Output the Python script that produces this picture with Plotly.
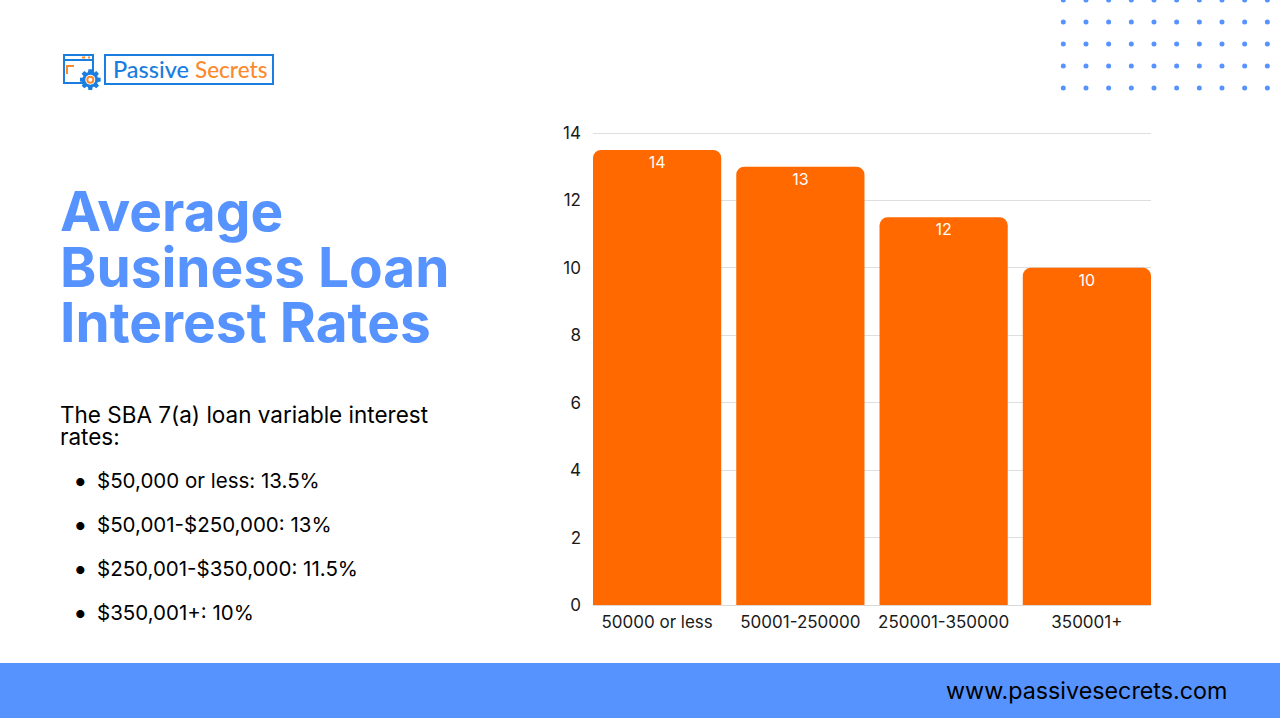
import math
import plotly.graph_objects as go

W = 1280
H = 720

# chart data
categories = ["50000 or less", "50001-250000", "250001-350000", "350001+"]
rates = [13.5, 13, 11.5, 10]
y_ticks = [0, 2, 4, 6, 8, 10, 12, 14]

# page text
title_lines = ["Average", "Business Loan", "Interest Rates"]
intro_lines = ["The SBA 7(a) loan variable interest", "rates:"]
bullets = ["$50,000 or less: 13.5%", "$50,001-$250,000: 13%",
           "$250,001-$350,000: 11.5%", "$350,001+: 10%"]
site = "www.passivesecrets.com"

BLUE = "#5693ff"
ORANGE = "#ff6900"
LOGO_BLUE = "#1a7de0"
LOGO_ORANGE = "#fb8a2e"
FONT = "Inter"

fig = go.Figure()

fig.add_trace(go.Bar(
    x=categories, y=rates,
    marker=dict(color=ORANGE, line=dict(width=0)),
    hoverinfo="skip",
))

# bar labels, a text trace so they sit closer to the rounded top than inside text does
# the invisible marker only pushes the text down from the bar top
fig.add_trace(go.Scatter(
    x=categories, y=rates, mode="markers+text",
    marker=dict(size=8, opacity=0),
    texttemplate="%{y:.0f}", textposition="bottom center",
    textfont=dict(color="white", size=16, family=FONT),
    hoverinfo="skip",
))

# decorative dots, top right
dot_x = []
dot_y = []
for row in range(5):
    for col in range(10):
        dot_x.append(1063.3 + col * 22.67)
        dot_y.append(row * 22)
fig.add_trace(go.Scatter(
    x=dot_x, y=dot_y, xaxis="x2", yaxis="y2", mode="markers",
    marker=dict(color=BLUE, size=5), hoverinfo="skip",
))


# logo gear outline
def gear_path(cx, cy, r_out, r_in, teeth=8):
    pts = []
    step = 2 * math.pi / teeth
    for i in range(teeth):
        a = i * step
        for da, r in [(-0.30, r_in), (-0.18, r_out), (0.18, r_out), (0.30, r_in)]:
            pts.append((cx + r * math.cos(a + da), cy + r * math.sin(a + da)))
    return "M " + " L ".join(f"{x:.2f} {y:.2f}" for x, y in pts) + " Z"


def circle(cx, cy, r, fill, line=None):
    return dict(type="circle", xref="x2", yref="y2", x0=cx - r, x1=cx + r, y0=cy - r, y1=cy + r,
                fillcolor=fill, line=dict(width=0) if line is None else dict(color=line, width=2))


shapes = [
    # footer band
    dict(type="rect", xref="x2", yref="y2", x0=0, x1=W, y0=663, y1=718,
         fillcolor=BLUE, line_width=0, layer="below"),
    # logo box
    dict(type="rect", xref="x2", yref="y2", x0=105, x1=273, y0=55, y1=84,
         line=dict(color=LOGO_BLUE, width=2)),
    # logo window
    dict(type="rect", xref="x2", yref="y2", x0=64, x1=93, y0=55, y1=83,
         line=dict(color=LOGO_BLUE, width=2), fillcolor="white"),
    dict(type="line", xref="x2", yref="y2", x0=64, x1=93, y0=60, y1=60,
         line=dict(color=LOGO_BLUE, width=2)),
    dict(type="line", xref="x2", yref="y2", x0=82, x1=90, y0=57.5, y1=57.5,
         line=dict(color=LOGO_ORANGE, width=2, dash="dot")),
    dict(type="path", xref="x2", yref="y2", path="M 67 74 L 67 66 L 74 66",
         line=dict(color=LOGO_ORANGE, width=2)),
    dict(type="path", xref="x2", yref="y2", path=gear_path(90.3, 79.7, 10.5, 7.8),
         fillcolor=LOGO_BLUE, line_width=0),
    circle(90.3, 79.7, 5, "white"),
    circle(90.3, 79.7, 3, "white", LOGO_ORANGE),
]
fig.update_layout(shapes=shapes)


def page_text(x, y, text, size, color="black", anchor="left", weight="normal", family=FONT):
    fig.add_annotation(
        x=x, y=y, xref="x2", yref="y2", text=text, showarrow=False,
        xanchor=anchor, yanchor="middle", align=anchor,
        font=dict(size=size, color=color, family=family, weight=weight),
    )


page_text(111, 69, "Passive", 23.5, LOGO_BLUE, weight=500, family="Lato")
page_text(193, 69, "Secrets", 22.5, LOGO_ORANGE, weight=500, family="Lato")

for text, y in zip(title_lines, [211, 267, 322]):
    page_text(58, y, text, 55, BLUE, weight="bold")
for text, y in zip(intro_lines, [414, 436]):
    page_text(58, y, text, 22.5)
for text, y in zip(bullets, [480, 524, 568, 612]):
    page_text(95, y, text, 20.5)
    page_text(71, y, "\u2022", 26)
page_text(1229, 690, site, 23.3, anchor="right")

fig.update_layout(
    width=W, height=H,
    margin=dict(l=0, r=0, t=0, b=0, autoexpand=False),
    paper_bgcolor="white", plot_bgcolor="rgba(0,0,0,0)",
    showlegend=False,
    bargap=0.105,
    barcornerradius=8,
    font=dict(family=FONT, color="#1a1a1a"),
    xaxis=dict(
        domain=[593 / W, 1151 / W],
        range=[-0.4475, 3.4475],
        tickfont=dict(size=17),
        ticklabelstandoff=2,
        showgrid=False, ticks="",
        showline=True, linecolor="#d9d9d9", linewidth=1,
        zeroline=False,
    ),
    yaxis=dict(
        # a little headroom over 14, the top gridline is dropped at the very edge
        domain=[(H - 605) / H, (H - 131) / H],
        range=[0, 14.06],
        tickvals=y_ticks,
        tickfont=dict(size=17),
        ticklabelstandoff=11,
        gridcolor="#dedede", gridwidth=1,
        zeroline=False, ticks="", ticklen=0,
    ),
    # full page axes so the decoration can be placed in page pixels
    xaxis2=dict(domain=[0, 1], range=[0, W], visible=False, anchor="y2", fixedrange=True),
    yaxis2=dict(domain=[0, 1], range=[H, 0], visible=False, anchor="x2", fixedrange=True),
)

fig.write_html("out.html", config=dict(displayModeBar=False),
               post_script="document.body.style.margin='0';")
